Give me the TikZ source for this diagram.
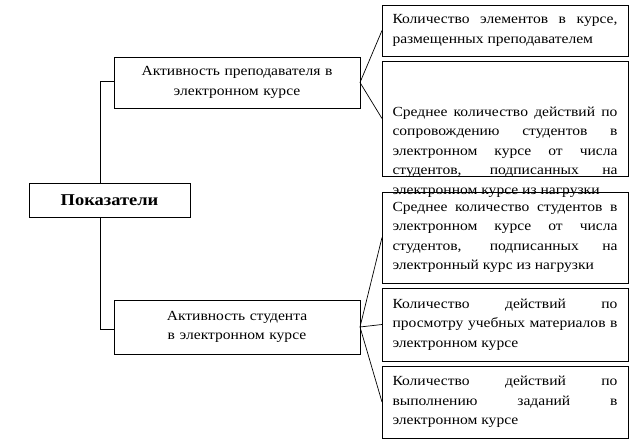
\documentclass[tikz,border=0pt]{standalone}
\usepackage{fontspec}
\setmainfont{Liberation Serif}[FakeStretch=1.12]
\begin{document}
\begin{tikzpicture}[x=1pt,y=-1pt,
  box/.style={draw,line width=0.8pt,inner sep=0pt,outer sep=0pt},
  rbox/.style={box,anchor=north west,minimum width=246pt,text width=225pt,align=justify,
    font=\fontsize{13.9}{19.5}\selectfont},
  mbox/.style={box,anchor=north west,minimum width=246pt,text width=236pt,align=center,
    font=\fontsize{13.9}{19.5}\selectfont},
  conn/.style={line width=0.7pt}]
\useasboundingbox (0,0) rectangle (643,446);
\node[box,anchor=north west,minimum width=161pt,minimum height=34pt,font=\bfseries\fontsize{16.5}{19}\selectfont] (root) at (29,183) {Показатели};
\node[mbox,minimum height=51pt] (m1) at (114,57) {Активность преподавателя в\\электронном курсе};
\node[mbox,minimum height=54pt] (m2) at (114,300) {Активность студента\\в электронном курсе};
\node[rbox,minimum height=51pt] (r1) at (382,5) {Количество элементов в курсе,\linebreak размещенных преподавателем};
\node[rbox,minimum height=115pt,text depth=14pt] (r2) at (382,61) {Среднее количество действий по\linebreak сопровождению студентов в\linebreak электронном курсе от числа\linebreak студентов, подписанных на\linebreak электронном курсе из нагрузки};
\node[rbox,minimum height=91pt] (r3) at (382,192) {Среднее количество студентов в\linebreak электронном курсе от числа\linebreak студентов, подписанных на\linebreak электронный курс из нагрузки};
\node[rbox,minimum height=73pt] (r4) at (382,288) {Количество действий по\linebreak просмотру учебных материалов в\linebreak электронном курсе};
\node[rbox,minimum height=72pt] (r5) at (382,366) {Количество действий по\linebreak выполнению заданий в\linebreak электронном курсе};
\coordinate (ja) at (100,81);
\coordinate (jb) at (100,329);
\draw[conn] (m1.west |- ja) -- (ja) -- (root.north -| ja);
\draw[conn] (root.south -| jb) -- (jb) -- (m2.west |- jb);
\draw[conn] (m1.east) -- (r1.west);
\draw[conn] (m1.east) -- (r2.west);
\draw[conn] (m2.east) -- (r3.west);
\draw[conn] (m2.east) -- (r4.west);
\draw[conn] (m2.east) -- (r5.west);
\end{tikzpicture}
\end{document}
